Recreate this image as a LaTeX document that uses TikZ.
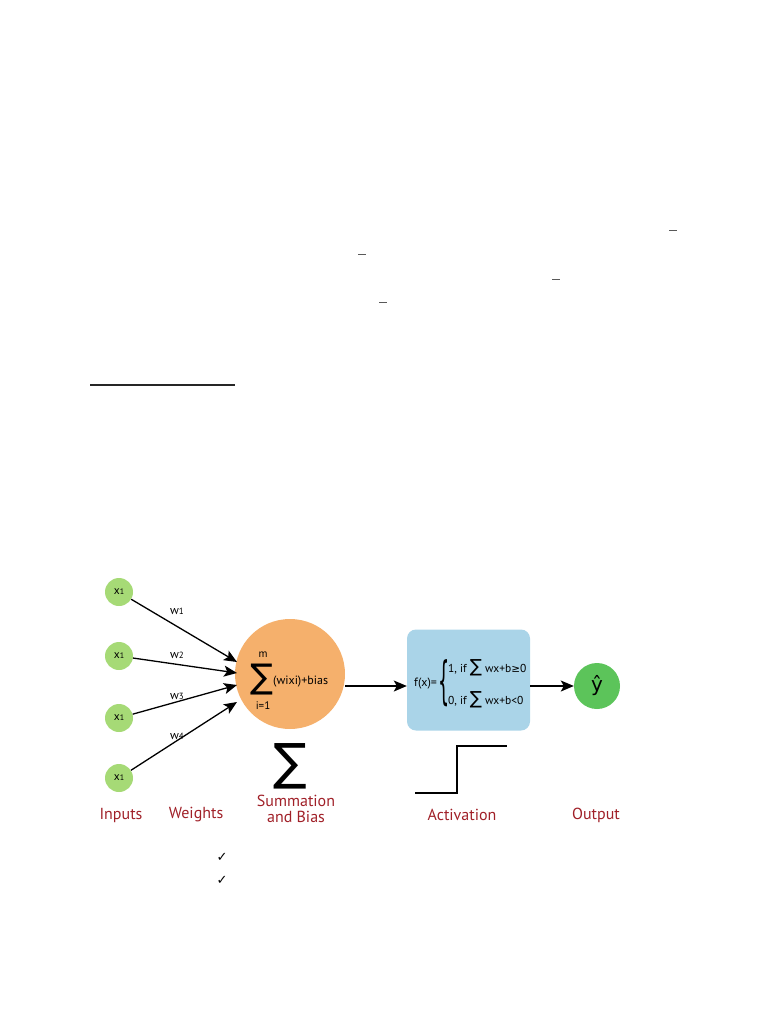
\documentclass[tikz,border=0pt]{standalone}
\usepackage{fontspec}
\usepackage{graphicx}
\setmainfont{PT Sans}
\newfontfamily\symfont{DejaVu Sans}
\usetikzlibrary{arrows.meta}
\definecolor{ingreen}{RGB}{166,218,118}
\definecolor{sumorange}{RGB}{245,176,108}
\definecolor{actblue}{RGB}{170,212,232}
\definecolor{outgreen}{RGB}{92,196,90}
\definecolor{labred}{RGB}{160,32,40}
\tikzset{
  innode/.style={circle,fill=ingreen,minimum size=28pt,inner sep=0pt,font=\fontsize{11.5}{12}\selectfont},
  conn/.style={-{Stealth[length=13pt,width=11pt,inset=3pt]},line width=1.3pt,black},
  wlab/.style={font=\fontsize{12}{13}\selectfont},
  caplab/.style={text=labred,font=\fontsize{16}{18}\selectfont,align=center},
  straymark/.style={line width=1pt,gray!70!black}
}
\newcommand{\xone}{x{\fontsize{8}{8}\selectfont 1}}
\newcommand{\bigsum}[1]{{\symfont\fontsize{#1}{#1}\selectfont ∑}}
\begin{document}
\begin{tikzpicture}[x=1pt,y=-1pt]
\useasboundingbox (0,0) rectangle (768,1024);
% stray marks
\draw[straymark] (669,231) -- (677,231);
\draw[straymark] (358,254) -- (366,254);
\draw[straymark] (552,279) -- (560,279);
\draw[straymark] (379,302) -- (387,302);
\draw[line width=2pt,black!85] (90,385) -- (235,385);
\node (ck1) at (222,857) {\symfont\fontsize{13}{13}\selectfont ✓};
\node (ck2) at (222,880) {\symfont\fontsize{13}{13}\selectfont ✓};
% inputs
\node[innode] (x1) at (119,592) {\xone};
\node[innode] (x2) at (119,656) {\xone};
\node[innode] (x3) at (119,718) {\xone};
\node[innode] (x4) at (119,778) {\xone};
% summation
\node[circle,fill=sumorange,minimum size=110pt,inner sep=0pt] (sum) at (290,674) {};
\node[inner sep=0pt] (sig) at (262,680) {\bigsum{34}};
\node[font=\fontsize{11}{11}\selectfont] (sm) at (263,655) {m};
\node[font=\fontsize{11}{11}\selectfont] (si) at (263,706) {i=1};
\node[anchor=west,font=\fontsize{12}{13}\selectfont,inner sep=0pt] (sb) at (273,682) {(wixi)+bias};
\coordinate (e1) at (237,662);
\coordinate (e2) at (237,673);
\coordinate (e3) at (237,685);
\coordinate (e4) at (237,702);
\draw[conn] (x1) -- (e1);
\draw[conn] (x2) -- (e2);
\draw[conn] (x3) -- (e3);
\draw[conn] (x4) -- (e4);
\node[wlab] (w1) at (177,611) {w{\fontsize{9}{9}\selectfont 1}};
\node[wlab] (w2) at (177,655) {w{\fontsize{9}{9}\selectfont 2}};
\node[wlab] (w3) at (177,696) {w{\fontsize{9}{9}\selectfont 3}};
\node[wlab] (w4) at (177,736) {w{\fontsize{9}{9}\selectfont 4}};
\node[inner sep=0pt] (bigsig) at (290,766) {\bigsum{50}};
% activation
\node[rounded corners=9pt,fill=actblue,minimum width=123pt,minimum height=101pt] (act) at (468.5,680) {};
\node[anchor=west,inner sep=0pt,font=\fontsize{12}{13}\selectfont] (fx) at (414,684) {f(x)=};
\node[anchor=west,inner sep=0pt] (brace) at (438,683) {\scalebox{1.1}[3.2]{\symfont\fontsize{16}{16}\selectfont \{}};
\node[anchor=west,inner sep=0pt,font=\fontsize{11.5}{13}\selectfont] (r1) at (448,668) {1, if \bigsum{18} wx+b{\symfont\fontsize{10.5}{11}\selectfont ≥}0};
\node[anchor=west,inner sep=0pt,font=\fontsize{11.5}{13}\selectfont] (r2) at (448,700) {0, if \bigsum{18} wx+b<0};
\coordinate (sumr) at (345,686);
\draw[conn] (sumr) -- (act.west |- sumr);
% output
\node[circle,fill=outgreen,minimum size=46pt,inner sep=0pt,font=\symfont\fontsize{20}{20}\selectfont] (out) at (597,686) {ŷ};
\draw[conn] (act.east |- out) -- (out);
% step function
\coordinate (s1) at (415,793);
\coordinate (s2) at (457,793);
\coordinate (s3) at (457,746);
\coordinate (s4) at (507,746);
\draw[line width=1.5pt] (s1) -- (s2) -- (s3) -- (s4);
% captions
\node[caplab] (l1) at (121,815) {Inputs};
\node[caplab] (l2) at (196,815) {Weights};
\node[caplab] (l3) at (296,809) {Summation\\[-2pt]and Bias};
\node[caplab] (l4) at (462,815) {Activation};
\node[caplab] (l5) at (596,815) {Output};
\end{tikzpicture}
\end{document}
